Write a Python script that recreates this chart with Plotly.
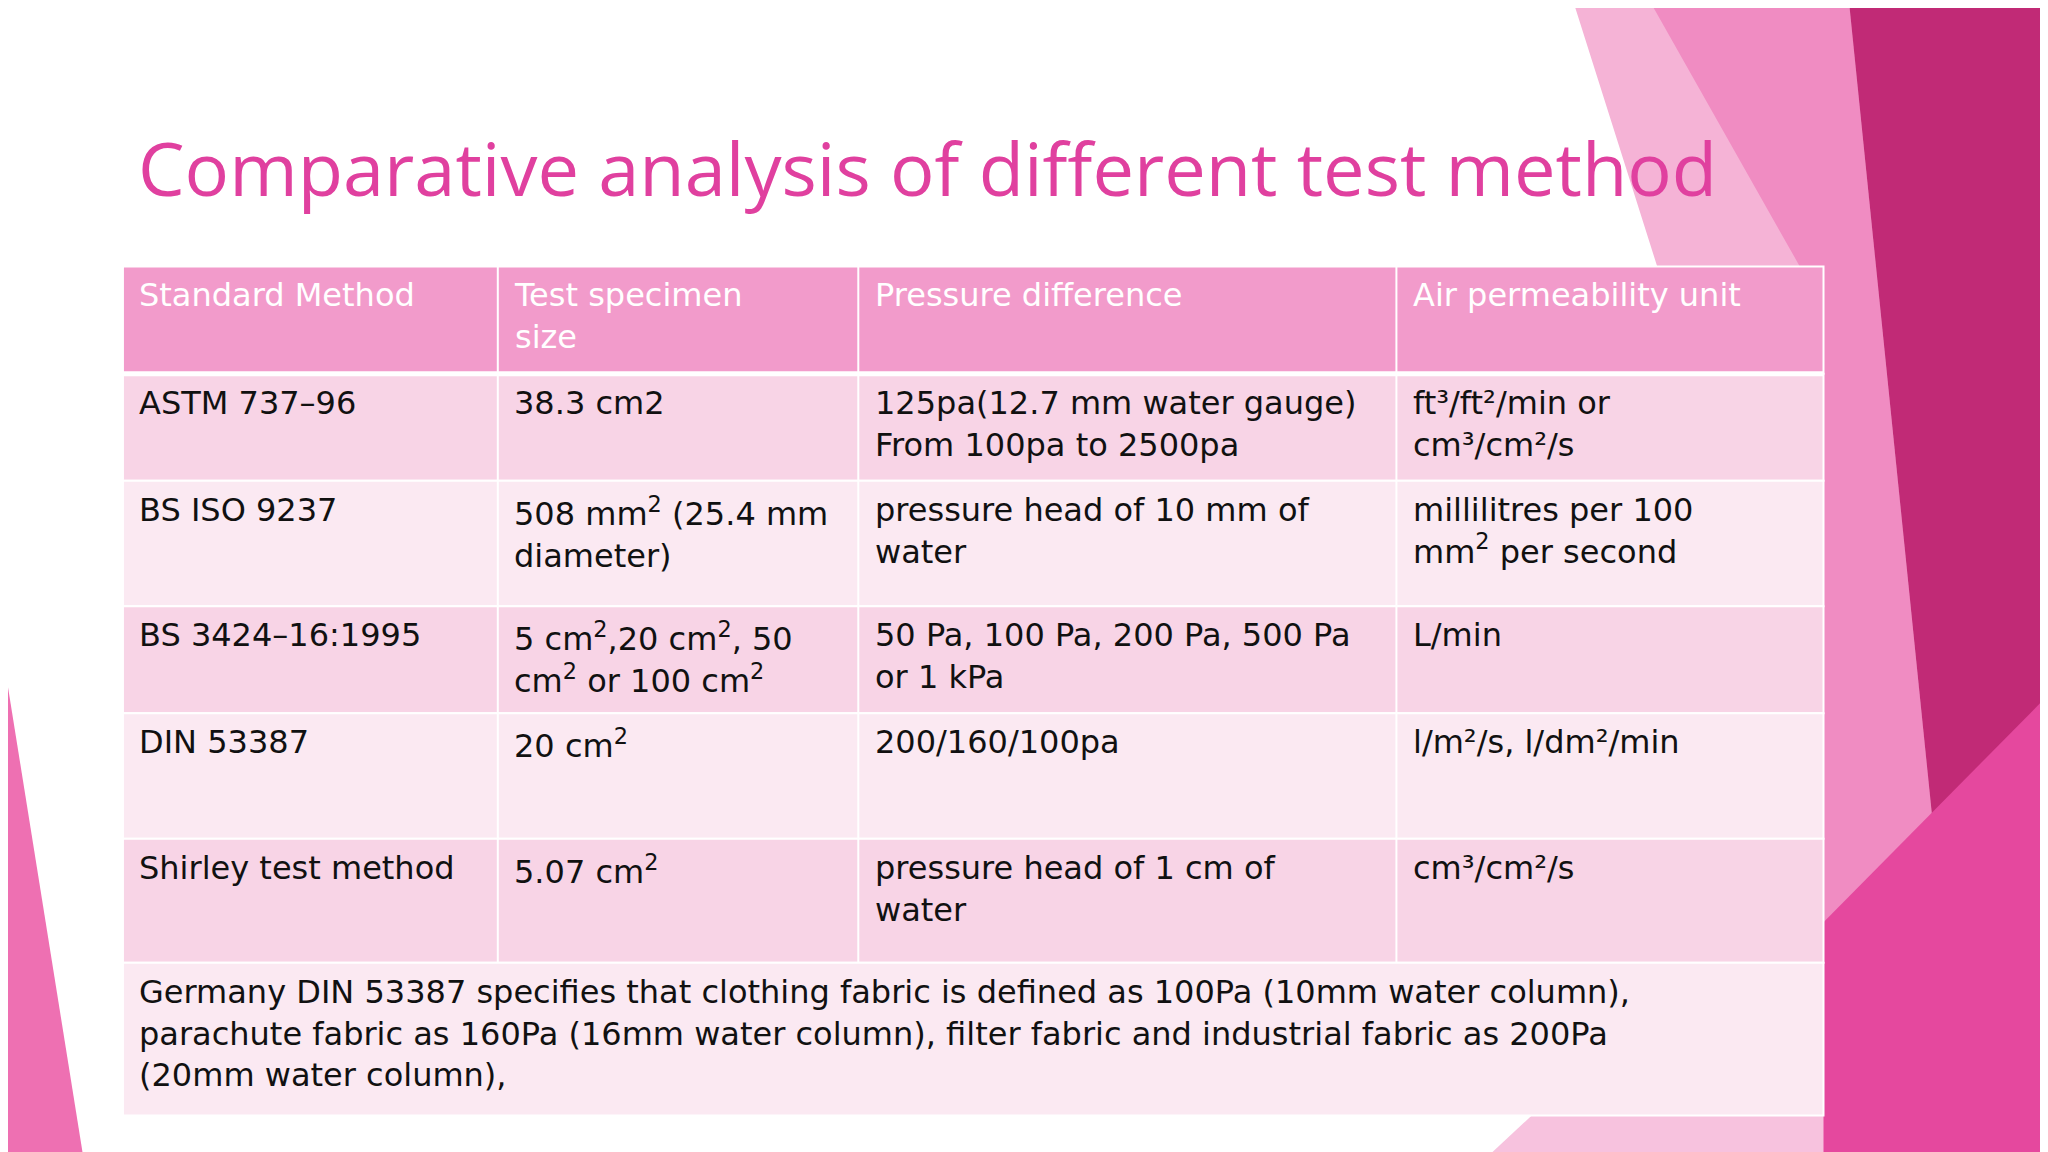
import plotly.graph_objects as go

S = 2048/1568
title = "Comparative analysis of different test method"
headers = ["Standard Method", "Test specimen<br>size", "Pressure difference", "Air permeability unit"]
col1 = ["ASTM 737–96", "BS ISO 9237", "BS 3424–16:1995", "DIN 53387", "Shirley test method"]
col2 = ["38.3 cm2", "508 mm<sup>2</sup> (25.4 mm<br>diameter)", "5 cm<sup>2</sup>,20 cm<sup>2</sup>, 50<br>cm<sup>2</sup> or 100 cm<sup>2</sup>",
        "20 cm<sup>2</sup>", "5.07 cm<sup>2</sup>"]
col3 = ["125pa(12.7 mm water gauge)<br>From 100pa to 2500pa", "pressure head of 10 mm of<br>water",
        "50 Pa, 100 Pa, 200 Pa, 500 Pa<br>or 1 kPa", "200/160/100pa", "pressure head of 1 cm of<br>water"]
col4 = ["ft³/ft²/min or<br>cm³/cm²/s", "millilitres per 100<br>mm<sup>2</sup> per second", "L/min",
        "l/m²/s, l/dm²/min", "cm³/cm²/s"]
footer = ("Germany DIN 53387 specifies that clothing fabric is defined as 100Pa (10mm water column),<br>"
          "parachute fabric as 160Pa (16mm water column), filter fabric and industrial fabric as 200Pa<br>"
          "(20mm water column),")

xs = [88, 375, 651, 1063, 1390]
ys = [198, 280, 362, 458, 540, 636, 731, 848]
fills = ["#f29bcb", "#f8d4e6", "#fbe9f2", "#f8d4e6", "#fbe9f2", "#f8d4e6", "#fbe9f2"]

fig = go.Figure()
shapes, ann = [], []
def poly(pts, color):
    p = "M " + " L ".join(f"{x*S},{y*S}" for x, y in pts) + " Z"
    shapes.append(dict(type="path", path=p, fillcolor=color, line=dict(width=0), layer="below"))

poly([(1200, 0), (1410, 0), (1568, 420), (1568, 882), (1390, 882), (1390, 600)], "#f5b3d6")
poly([(1260, 0), (1410, 0), (1500, 882), (1390, 882), (1390, 230)], "#f08cc2")
poly([(1410, 0), (1568, 0), (1568, 882), (1500, 882)], "#c12a76")
poly([(1390, 700), (1568, 520), (1568, 882), (1330, 882)], "#e5489e")
poly([(1130, 882), (1390, 640), (1390, 882)], "#f7c2de")
poly([(0, 520), (0, 882), (58, 882)], "#ee70b2")

for r in range(7):
    y0, y1 = ys[r], ys[r+1]
    shapes.append(dict(type="rect", x0=xs[0]*S, x1=xs[-1]*S, y0=y0*S, y1=y1*S,
                       fillcolor=fills[r], line=dict(color="white", width=2), layer="below"))
for x in xs[1:-1]:
    shapes.append(dict(type="line", x0=x*S, x1=x*S, y0=ys[0]*S, y1=ys[6]*S, line=dict(color="white", width=2)))
shapes.append(dict(type="line", x0=xs[0]*S, x1=xs[-1]*S, y0=ys[1]*S, y1=ys[1]*S, line=dict(color="white", width=5)))

font = dict(family="DejaVu Sans", size=32, color="#111111")
def cell(txt, c, r, color="#111111"):
    ann.append(dict(x=(xs[c]+11)*S, y=(ys[r]+6)*S, text=txt, showarrow=False, xanchor="left", yanchor="top",
                    align="left", font=dict(font, color=color)))
for c, h in enumerate(headers):
    cell(h, c, 0, "white")
for i in range(5):
    for c, col in enumerate([col1, col2, col3, col4]):
        cell(col[i], c, i+1)
cell(footer, 0, 6)
ann.append(dict(x=98*S, y=122*S, text=title, showarrow=False, xanchor="left", yanchor="middle",
                font=dict(family="Open Sans, DejaVu Sans", size=74, color="#e0409f")))

fig.update_layout(width=2048, height=1152, margin=dict(l=0, r=0, t=0, b=0),
                  plot_bgcolor="white", paper_bgcolor="white", shapes=shapes, annotations=ann,
                  xaxis=dict(range=[0, 2048], visible=False, fixedrange=True),
                  yaxis=dict(range=[1152, 0], visible=False, fixedrange=True), showlegend=False)
fig.write_html("out.html")
